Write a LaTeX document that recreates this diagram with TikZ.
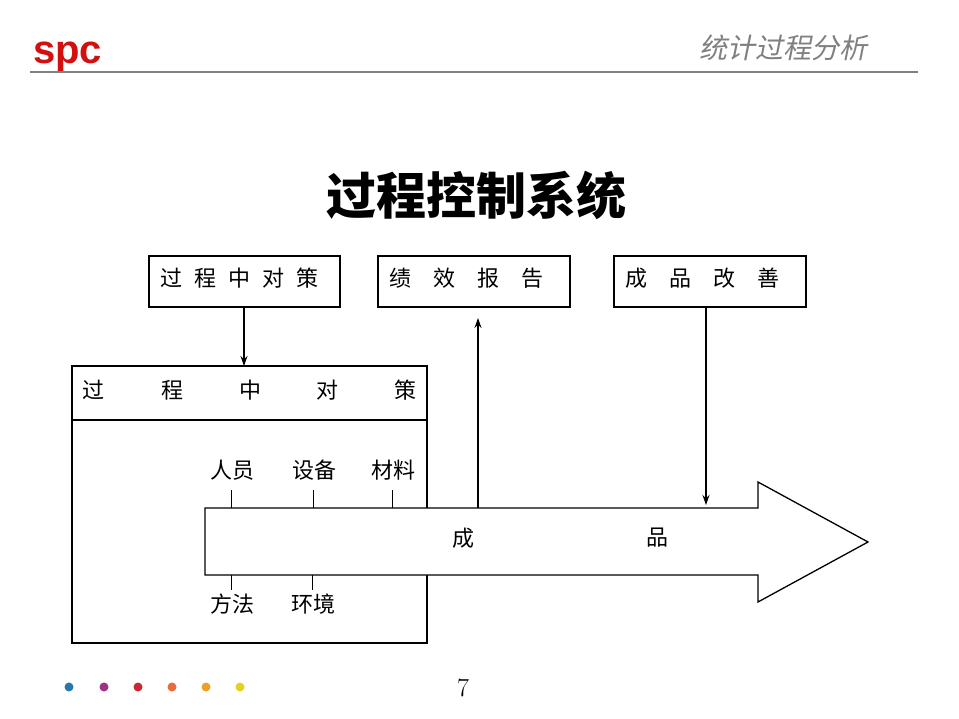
\documentclass[tikz,border=0pt]{standalone}
\usepackage{fontspec}
\usetikzlibrary{arrows.meta}
\newfontfamily\cjk{Noto Sans CJK SC}
\setsansfont{Liberation Sans}
\definecolor{spcred}{RGB}{210,16,16}
\tikzset{lbl/.style={font=\cjk\fontsize{22}{24}\selectfont,inner sep=0pt},
 bx/.style={draw,line width=1.3pt},
 arr/.style={-{Stealth[length=10pt,width=7pt]},line width=1.1pt},
 tick/.style={line width=1pt}}
\begin{document}
\begin{tikzpicture}[x=1pt,y=-1pt]
\useasboundingbox (0,0) rectangle (959,719);
\fill[white] (0,0) rectangle (959,719);
\node[font=\sffamily\bfseries\fontsize{40}{42}\selectfont,text=spcred,anchor=base west,inner sep=0pt] (spc) at (33,64) {spc};
\node[font=\cjk\fontsize{28}{30}\selectfont,text=gray,xslant=0.2,inner sep=0pt] (hdr) at (786,48) {统计过程分析};
\draw[gray,line width=1.2pt] (30,72) -- (918,72);
\node[font=\cjk\bfseries\fontsize{50}{54}\selectfont,inner sep=0pt] (title) at (476,195) {过程控制系统};
\draw[bx] (149,256) rectangle (340,307);
\draw[bx] (378,256) rectangle (570,307);
\draw[bx] (614,256) rectangle (806,307);
\node[lbl,anchor=west] (b1) at (160,278) {过\hspace{12pt}程\hspace{12pt}中\hspace{12pt}对\hspace{12pt}策};
\node[lbl,anchor=west] (b2) at (389,278) {绩\hspace{22pt}效\hspace{22pt}报\hspace{22pt}告};
\node[lbl,anchor=west] (b3) at (625,278) {成\hspace{22pt}品\hspace{22pt}改\hspace{22pt}善};
\coordinate (b1s) at (244,307);
\coordinate (b3s) at (706,307);
\draw[bx] (72,366) rectangle (427,643);
\draw[line width=1.3pt] (72,420) -- (427,420);
\foreach \t/\x in {过/93,程/172,中/250,对/327,策/405} \node[lbl] at (\x,390) {\t};
\coordinate (bt) at (244,366);
\draw[arr] (b1s) -- (bt);
\draw[line width=1.3pt,fill=white] (205,508) -- (758,508) -- (758,482) -- (868,542) -- (758,602) -- (758,575) -- (205,575) -- cycle;
\coordinate (up) at (478,508);
\draw[arr] (up) -- (478,318);
\coordinate (dn) at (706,505);
\draw[arr] (b3s) -- (dn);
\foreach \t/\x in {人员/232,设备/314,材料/393} {\node[lbl] at (\x,470) {\t}; \draw[tick] (\x-1,490) -- (\x-1,508);}
\foreach \t/\x in {方法/232,环境/313} {\node[lbl] at (\x,604) {\t}; \draw[tick] (\x-1,575) -- (\x-1,590);}
\node[lbl] (c1) at (463,538) {成};
\node[lbl] (c2) at (657,538) {品};
\node[font=\fontsize{26}{28}\selectfont,inner sep=0pt] (pg) at (463,688) {7};
\foreach \x/\c in {69/{40,120,170},104/{160,50,130},138/{200,40,50},172/{230,110,60},206/{235,160,40},240/{230,210,30}} {\definecolor{dc}{RGB}{\c}\fill[dc] (\x,687) circle (4.5);}
\end{tikzpicture}
\end{document}
